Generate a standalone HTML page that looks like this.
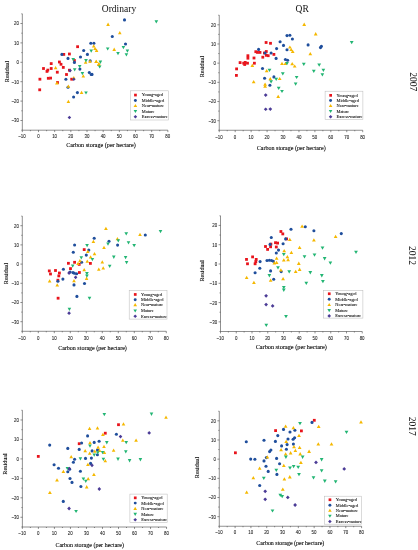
<!DOCTYPE html>
<html><head><meta charset="utf-8"><title>Residual plots</title>
<style>
html,body{margin:0;padding:0;background:#fff;}
svg{display:block;filter:blur(0.3px)}
.tk{font-family:"Liberation Sans",Arial,sans-serif;font-size:5.4px;fill:#1a1a1a;stroke:#1a1a1a;stroke-width:0.08px}
.ax{font-family:"Liberation Serif","Times New Roman",serif;font-size:6.1px;fill:#000;stroke:#000;stroke-width:0.09px}
.lg{font-family:"Liberation Serif","Times New Roman",serif;font-size:4.4px;fill:#000;stroke:#000;stroke-width:0.07px}
.tt{font-family:"Liberation Serif","Times New Roman",serif;font-size:9.5px;fill:#111}
</style></head><body>
<svg width="418" height="550" viewBox="0 0 418 550">
<rect width="418" height="550" fill="#fff"/>
<text class="tt" x="119" y="11.7" text-anchor="middle">Ordinary</text>
<text class="tt" x="302.2" y="11.7" text-anchor="middle">QR</text>
<text class="tt" transform="translate(409.8,81.8) rotate(90)" text-anchor="middle">2007</text>
<text class="tt" transform="translate(409.0,255.5) rotate(90)" text-anchor="middle">2012</text>
<text class="tt" transform="translate(408.6,426.2) rotate(90)" text-anchor="middle">2017</text>

<g id="p1">
<path d="M22.33 13.80V130.20H167.86M22.33 130.20v1.9M30.41 130.20v1.0M38.50 130.20v1.9M46.59 130.20v1.0M54.67 130.20v1.9M62.75 130.20v1.0M70.84 130.20v1.9M78.92 130.20v1.0M87.01 130.20v1.9M95.09 130.20v1.0M103.18 130.20v1.9M111.27 130.20v1.0M119.35 130.20v1.9M127.44 130.20v1.0M135.52 130.20v1.9M143.61 130.20v1.0M151.69 130.20v1.9M159.78 130.20v1.0M167.86 130.20v1.9M22.33 130.20h-1.0M22.33 120.50h-1.9M22.33 110.80h-1.0M22.33 101.10h-1.9M22.33 91.40h-1.0M22.33 81.70h-1.9M22.33 72.00h-1.0M22.33 62.30h-1.9M22.33 52.60h-1.0M22.33 42.90h-1.9M22.33 33.20h-1.0M22.33 23.50h-1.9M22.33 13.80h-1.0" fill="none" stroke="#333" stroke-width="0.55"/>
<text class="tk" transform="translate(22.0,138.4) scale(0.82,1)" text-anchor="middle">−10</text>
<text class="tk" transform="translate(38.4,138.4) scale(0.82,1)" text-anchor="middle">0</text>
<text class="tk" transform="translate(54.6,138.4) scale(0.82,1)" text-anchor="middle">10</text>
<text class="tk" transform="translate(70.7,138.4) scale(0.82,1)" text-anchor="middle">20</text>
<text class="tk" transform="translate(86.9,138.4) scale(0.82,1)" text-anchor="middle">30</text>
<text class="tk" transform="translate(103.1,138.4) scale(0.82,1)" text-anchor="middle">40</text>
<text class="tk" transform="translate(119.2,138.4) scale(0.82,1)" text-anchor="middle">50</text>
<text class="tk" transform="translate(135.4,138.4) scale(0.82,1)" text-anchor="middle">60</text>
<text class="tk" transform="translate(151.6,138.4) scale(0.82,1)" text-anchor="middle">70</text>
<text class="tk" transform="translate(167.8,138.4) scale(0.82,1)" text-anchor="middle">80</text>
<text class="tk" transform="translate(18.9,122.4) scale(0.82,1)" text-anchor="end">−30</text>
<text class="tk" transform="translate(18.9,103.0) scale(0.82,1)" text-anchor="end">−20</text>
<text class="tk" transform="translate(18.9,83.6) scale(0.82,1)" text-anchor="end">−10</text>
<text class="tk" transform="translate(18.9,64.2) scale(0.82,1)" text-anchor="end">0</text>
<text class="tk" transform="translate(18.9,44.8) scale(0.82,1)" text-anchor="end">10</text>
<text class="tk" transform="translate(18.9,25.4) scale(0.82,1)" text-anchor="end">20</text>
<text class="ax" x="101.0" y="147.2" text-anchor="middle" textLength="69.6" lengthAdjust="spacingAndGlyphs">Carbon storage (per hectare)</text>
<text class="ax" transform="translate(9.4,71.5) rotate(-90)" text-anchor="middle">Residual</text>
<rect x="38.3" y="88.4" width="2.8" height="2.8" fill="#e8141c"/>
<rect x="38.5" y="77.8" width="2.8" height="2.8" fill="#e8141c"/>
<rect x="42.1" y="67.1" width="2.8" height="2.8" fill="#e8141c"/>
<rect x="45.6" y="70.0" width="2.8" height="2.8" fill="#e8141c"/>
<rect x="46.4" y="68.7" width="2.8" height="2.8" fill="#e8141c"/>
<rect x="46.9" y="76.9" width="2.8" height="2.8" fill="#e8141c"/>
<rect x="49.2" y="76.7" width="2.8" height="2.8" fill="#e8141c"/>
<rect x="49.8" y="62.2" width="2.8" height="2.8" fill="#e8141c"/>
<rect x="49.8" y="67.1" width="2.8" height="2.8" fill="#e8141c"/>
<rect x="55.9" y="70.8" width="2.8" height="2.8" fill="#e8141c"/>
<rect x="56.1" y="81.1" width="2.8" height="2.8" fill="#e8141c"/>
<rect x="58.0" y="60.6" width="2.8" height="2.8" fill="#e8141c"/>
<rect x="59.6" y="62.9" width="2.8" height="2.8" fill="#e8141c"/>
<rect x="61.9" y="66.0" width="2.8" height="2.8" fill="#e8141c"/>
<rect x="62.4" y="53.0" width="2.8" height="2.8" fill="#e8141c"/>
<rect x="65.1" y="73.1" width="2.8" height="2.8" fill="#e8141c"/>
<rect x="68.0" y="52.6" width="2.8" height="2.8" fill="#e8141c"/>
<rect x="68.0" y="68.8" width="2.8" height="2.8" fill="#e8141c"/>
<rect x="70.3" y="77.8" width="2.8" height="2.8" fill="#e8141c"/>
<rect x="76.2" y="45.3" width="2.8" height="2.8" fill="#e8141c"/>
<rect x="73.0" y="59.1" width="2.8" height="2.8" fill="#e8141c"/>
<circle cx="61.9" cy="54.4" r="1.55" fill="#1f4e9c"/>
<circle cx="65.9" cy="79.2" r="1.55" fill="#1f4e9c"/>
<circle cx="68.0" cy="58.4" r="1.55" fill="#1f4e9c"/>
<circle cx="68.0" cy="87.3" r="1.55" fill="#1f4e9c"/>
<circle cx="73.6" cy="97.0" r="1.55" fill="#1f4e9c"/>
<circle cx="74.4" cy="62.4" r="1.55" fill="#1f4e9c"/>
<circle cx="77.4" cy="92.6" r="1.55" fill="#1f4e9c"/>
<circle cx="79.9" cy="69.1" r="1.55" fill="#1f4e9c"/>
<circle cx="80.5" cy="57.0" r="1.55" fill="#1f4e9c"/>
<circle cx="83.7" cy="50.5" r="1.55" fill="#1f4e9c"/>
<circle cx="87.4" cy="54.4" r="1.55" fill="#1f4e9c"/>
<circle cx="89.3" cy="72.5" r="1.55" fill="#1f4e9c"/>
<circle cx="91.2" cy="74.5" r="1.55" fill="#1f4e9c"/>
<circle cx="90.8" cy="43.3" r="1.55" fill="#1f4e9c"/>
<circle cx="93.9" cy="43.3" r="1.55" fill="#1f4e9c"/>
<circle cx="90.2" cy="60.9" r="1.55" fill="#1f4e9c"/>
<circle cx="124.5" cy="19.9" r="1.55" fill="#1f4e9c"/>
<circle cx="112.3" cy="36.5" r="1.55" fill="#1f4e9c"/>
<circle cx="125.5" cy="44.0" r="1.55" fill="#1f4e9c"/>
<circle cx="92.0" cy="74.4" r="1.55" fill="#1f4e9c"/>
<path d="M55.6 66.0L57.5 69.2H53.8Z" fill="#f5b800"/>
<path d="M56.9 81.2L58.8 84.5H55.0Z" fill="#f5b800"/>
<path d="M68.4 84.5L70.2 87.7H66.6Z" fill="#f5b800"/>
<path d="M68.4 99.8L70.2 103.0H66.6Z" fill="#f5b800"/>
<path d="M73.8 76.1L75.6 79.3H72.0Z" fill="#f5b800"/>
<path d="M81.6 90.8L83.4 94.0H79.8Z" fill="#f5b800"/>
<path d="M83.3 74.2L85.1 77.4H81.5Z" fill="#f5b800"/>
<path d="M85.6 60.5L87.4 63.8H83.8Z" fill="#f5b800"/>
<path d="M90.0 59.4L91.8 62.7H88.2Z" fill="#f5b800"/>
<path d="M93.7 44.2L95.5 47.5H91.9Z" fill="#f5b800"/>
<path d="M95.0 46.8L96.8 50.0H93.2Z" fill="#f5b800"/>
<path d="M96.6 48.6L98.4 51.9H94.8Z" fill="#f5b800"/>
<path d="M96.2 59.8L98.0 63.0H94.4Z" fill="#f5b800"/>
<path d="M98.9 62.0L100.8 65.3H97.1Z" fill="#f5b800"/>
<path d="M108.1 22.6L109.9 25.9H106.2Z" fill="#f5b800"/>
<path d="M119.8 31.0L121.6 34.3H118.0Z" fill="#f5b800"/>
<path d="M114.2 47.6L116.0 50.9H112.4Z" fill="#f5b800"/>
<path d="M96.2 59.8L98.0 63.0H94.4Z" fill="#f5b800"/>
<path d="M98.7 62.6L100.5 65.9H96.9Z" fill="#f5b800"/>
<path d="M73.2 61.4L75.0 58.1H71.4Z" fill="#22b573"/>
<path d="M74.7 71.5L76.5 68.3H72.9Z" fill="#22b573"/>
<path d="M79.7 68.2L81.5 65.0H77.9Z" fill="#22b573"/>
<path d="M82.4 75.3L84.2 72.1H80.6Z" fill="#22b573"/>
<path d="M86.0 62.4L87.8 59.1H84.2Z" fill="#22b573"/>
<path d="M86.0 94.6L87.8 91.4H84.2Z" fill="#22b573"/>
<path d="M91.2 52.8L93.0 49.5H89.4Z" fill="#22b573"/>
<path d="M156.3 23.5L158.2 20.2H154.5Z" fill="#22b573"/>
<path d="M107.7 50.6L109.5 47.4H105.9Z" fill="#22b573"/>
<path d="M118.0 55.2L119.8 52.0H116.2Z" fill="#22b573"/>
<path d="M123.4 49.2L125.2 46.0H121.6Z" fill="#22b573"/>
<path d="M127.4 52.8L129.2 49.5H125.6Z" fill="#22b573"/>
<path d="M126.4 56.6L128.2 53.3H124.6Z" fill="#22b573"/>
<path d="M100.4 63.9L102.2 60.6H98.6Z" fill="#22b573"/>
<path d="M99.7 68.6L101.5 65.4H97.9Z" fill="#22b573"/>
<path d="M69.4 115.7L71.2 117.5L69.4 119.3L67.6 117.5Z" fill="#4b3b96"/>
<path d="M70.1 68.8L71.9 70.6L70.1 72.4L68.2 70.6Z" fill="#4b3b96"/>
<path d="M73.8 77.4L75.6 79.2L73.8 81.0L72.0 79.2Z" fill="#4b3b96"/>
<rect x="130.4" y="90.8" width="38.3" height="29.2" fill="#fff" stroke="#bdbdbd" stroke-width="0.55"/>
<rect x="134.1" y="93.7" width="2.7" height="2.7" fill="#e8141c"/>
<text class="lg" x="141.8" y="96.4">Young-aged</text>
<circle cx="135.4" cy="100.5" r="1.47" fill="#1f4e9c"/>
<text class="lg" x="141.8" y="101.9">Middle-aged</text>
<path d="M135.4 104.0L137.2 107.1H133.6Z" fill="#f5b800"/>
<text class="lg" x="141.8" y="107.2">Near-mature</text>
<path d="M135.4 113.1L137.2 110.0H133.6Z" fill="#22b573"/>
<text class="lg" x="141.8" y="112.7">Mature</text>
<path d="M135.4 115.0L137.2 116.8L135.4 118.6L133.6 116.8Z" fill="#4b3b96"/>
<text class="lg" x="141.8" y="118.2">Excess-mature</text>
</g>
<g id="p2">
<path d="M219.26 15.20V130.28H362.72M219.26 130.28v1.9M227.23 130.28v1.0M235.20 130.28v1.9M243.17 130.28v1.0M251.14 130.28v1.9M259.11 130.28v1.0M267.08 130.28v1.9M275.05 130.28v1.0M283.02 130.28v1.9M290.99 130.28v1.0M298.96 130.28v1.9M306.93 130.28v1.0M314.90 130.28v1.9M322.87 130.28v1.0M330.84 130.28v1.9M338.81 130.28v1.0M346.78 130.28v1.9M354.75 130.28v1.0M362.72 130.28v1.9M219.26 130.28h-1.0M219.26 120.69h-1.9M219.26 111.10h-1.0M219.26 101.51h-1.9M219.26 91.92h-1.0M219.26 82.33h-1.9M219.26 72.74h-1.0M219.26 63.15h-1.9M219.26 53.56h-1.0M219.26 43.97h-1.9M219.26 34.38h-1.0M219.26 24.79h-1.9M219.26 15.20h-1.0" fill="none" stroke="#333" stroke-width="0.55"/>
<text class="tk" transform="translate(219.0,138.5) scale(0.82,1)" text-anchor="middle">−10</text>
<text class="tk" transform="translate(235.1,138.5) scale(0.82,1)" text-anchor="middle">0</text>
<text class="tk" transform="translate(251.0,138.5) scale(0.82,1)" text-anchor="middle">10</text>
<text class="tk" transform="translate(267.0,138.5) scale(0.82,1)" text-anchor="middle">20</text>
<text class="tk" transform="translate(282.9,138.5) scale(0.82,1)" text-anchor="middle">30</text>
<text class="tk" transform="translate(298.9,138.5) scale(0.82,1)" text-anchor="middle">40</text>
<text class="tk" transform="translate(314.8,138.5) scale(0.82,1)" text-anchor="middle">50</text>
<text class="tk" transform="translate(330.7,138.5) scale(0.82,1)" text-anchor="middle">60</text>
<text class="tk" transform="translate(346.7,138.5) scale(0.82,1)" text-anchor="middle">70</text>
<text class="tk" transform="translate(362.6,138.5) scale(0.82,1)" text-anchor="middle">80</text>
<text class="tk" transform="translate(215.9,122.6) scale(0.82,1)" text-anchor="end">−30</text>
<text class="tk" transform="translate(215.9,103.4) scale(0.82,1)" text-anchor="end">−20</text>
<text class="tk" transform="translate(215.9,84.2) scale(0.82,1)" text-anchor="end">−10</text>
<text class="tk" transform="translate(215.9,65.0) scale(0.82,1)" text-anchor="end">0</text>
<text class="tk" transform="translate(215.9,45.9) scale(0.82,1)" text-anchor="end">10</text>
<text class="tk" transform="translate(215.9,26.7) scale(0.82,1)" text-anchor="end">20</text>
<text class="ax" x="291.2" y="149.8" text-anchor="middle" textLength="68.9" lengthAdjust="spacingAndGlyphs">Carbon storage (per hectare)</text>
<text class="ax" transform="translate(204.4,66.6) rotate(-90)" text-anchor="middle">Residual</text>
<rect x="235.0" y="74.0" width="2.8" height="2.8" fill="#e8141c"/>
<rect x="235.2" y="67.5" width="2.8" height="2.8" fill="#e8141c"/>
<rect x="238.7" y="61.2" width="2.8" height="2.8" fill="#e8141c"/>
<rect x="242.3" y="61.8" width="2.8" height="2.8" fill="#e8141c"/>
<rect x="243.3" y="63.1" width="2.8" height="2.8" fill="#e8141c"/>
<rect x="243.8" y="61.0" width="2.8" height="2.8" fill="#e8141c"/>
<rect x="246.1" y="61.8" width="2.8" height="2.8" fill="#e8141c"/>
<rect x="246.5" y="54.3" width="2.8" height="2.8" fill="#e8141c"/>
<rect x="246.5" y="56.8" width="2.8" height="2.8" fill="#e8141c"/>
<rect x="252.6" y="56.6" width="2.8" height="2.8" fill="#e8141c"/>
<rect x="253.0" y="61.8" width="2.8" height="2.8" fill="#e8141c"/>
<rect x="254.4" y="50.3" width="2.8" height="2.8" fill="#e8141c"/>
<rect x="256.1" y="51.0" width="2.8" height="2.8" fill="#e8141c"/>
<rect x="258.6" y="51.0" width="2.8" height="2.8" fill="#e8141c"/>
<rect x="261.4" y="55.8" width="2.8" height="2.8" fill="#e8141c"/>
<rect x="263.0" y="51.6" width="2.8" height="2.8" fill="#e8141c"/>
<rect x="264.7" y="41.1" width="2.8" height="2.8" fill="#e8141c"/>
<rect x="264.9" y="50.1" width="2.8" height="2.8" fill="#e8141c"/>
<rect x="264.9" y="53.9" width="2.8" height="2.8" fill="#e8141c"/>
<rect x="266.8" y="54.3" width="2.8" height="2.8" fill="#e8141c"/>
<rect x="269.1" y="41.9" width="2.8" height="2.8" fill="#e8141c"/>
<rect x="272.5" y="53.0" width="2.8" height="2.8" fill="#e8141c"/>
<circle cx="258.6" cy="49.4" r="1.55" fill="#1f4e9c"/>
<circle cx="262.5" cy="68.5" r="1.55" fill="#1f4e9c"/>
<circle cx="264.6" cy="78.3" r="1.55" fill="#1f4e9c"/>
<circle cx="265.1" cy="53.0" r="1.55" fill="#1f4e9c"/>
<circle cx="269.9" cy="85.2" r="1.55" fill="#1f4e9c"/>
<circle cx="271.1" cy="53.0" r="1.55" fill="#1f4e9c"/>
<circle cx="273.9" cy="76.9" r="1.55" fill="#1f4e9c"/>
<circle cx="276.1" cy="58.4" r="1.55" fill="#1f4e9c"/>
<circle cx="276.6" cy="48.6" r="1.55" fill="#1f4e9c"/>
<circle cx="280.1" cy="41.7" r="1.55" fill="#1f4e9c"/>
<circle cx="283.5" cy="45.4" r="1.55" fill="#1f4e9c"/>
<circle cx="285.4" cy="59.5" r="1.55" fill="#1f4e9c"/>
<circle cx="287.0" cy="35.6" r="1.55" fill="#1f4e9c"/>
<circle cx="289.9" cy="35.2" r="1.55" fill="#1f4e9c"/>
<circle cx="292.4" cy="39.0" r="1.55" fill="#1f4e9c"/>
<circle cx="308.1" cy="44.9" r="1.55" fill="#1f4e9c"/>
<circle cx="320.5" cy="47.6" r="1.55" fill="#1f4e9c"/>
<circle cx="321.4" cy="46.3" r="1.55" fill="#1f4e9c"/>
<circle cx="287.0" cy="49.7" r="1.55" fill="#1f4e9c"/>
<circle cx="287.6" cy="60.2" r="1.55" fill="#1f4e9c"/>
<path d="M252.3 63.6L254.2 66.9H250.5Z" fill="#f5b800"/>
<path d="M253.7 80.1L255.5 83.3H251.8Z" fill="#f5b800"/>
<path d="M265.1 82.6L267.0 85.8H263.2Z" fill="#f5b800"/>
<path d="M265.1 84.5L267.0 87.7H263.2Z" fill="#f5b800"/>
<path d="M266.7 69.0L268.6 72.2H264.8Z" fill="#f5b800"/>
<path d="M270.3 77.1L272.2 80.3H268.4Z" fill="#f5b800"/>
<path d="M278.2 94.7L280.1 97.9H276.3Z" fill="#f5b800"/>
<path d="M279.7 76.9L281.6 80.1H277.8Z" fill="#f5b800"/>
<path d="M282.0 61.8L283.9 65.0H280.1Z" fill="#f5b800"/>
<path d="M285.4 61.8L287.2 65.0H283.5Z" fill="#f5b800"/>
<path d="M304.2 22.6L306.1 25.9H302.3Z" fill="#f5b800"/>
<path d="M315.7 32.1L317.6 35.4H313.8Z" fill="#f5b800"/>
<path d="M310.3 52.0L312.2 55.3H308.4Z" fill="#f5b800"/>
<path d="M289.9 45.4L291.8 48.6H288.0Z" fill="#f5b800"/>
<path d="M291.2 47.9L293.1 51.1H289.3Z" fill="#f5b800"/>
<path d="M292.7 49.8L294.6 53.0H290.8Z" fill="#f5b800"/>
<path d="M292.2 62.0L294.1 65.3H290.3Z" fill="#f5b800"/>
<path d="M294.7 64.4L296.6 67.6H292.8Z" fill="#f5b800"/>
<path d="M269.5 72.0L271.4 68.8H267.6Z" fill="#22b573"/>
<path d="M271.1 83.5L273.0 80.3H269.2Z" fill="#22b573"/>
<path d="M276.2 81.0L278.1 77.8H274.3Z" fill="#22b573"/>
<path d="M278.7 90.0L280.6 86.8H276.8Z" fill="#22b573"/>
<path d="M282.0 93.1L283.9 89.9H280.1Z" fill="#22b573"/>
<path d="M282.8 75.5L284.7 72.3H280.9Z" fill="#22b573"/>
<path d="M351.7 44.2L353.6 41.0H349.8Z" fill="#22b573"/>
<path d="M303.8 65.9L305.7 62.7H301.9Z" fill="#22b573"/>
<path d="M319.2 66.8L321.1 63.6H317.3Z" fill="#22b573"/>
<path d="M313.8 73.0L315.7 69.8H311.9Z" fill="#22b573"/>
<path d="M323.4 72.0L325.2 68.8H321.5Z" fill="#22b573"/>
<path d="M322.4 76.4L324.2 73.2H320.5Z" fill="#22b573"/>
<path d="M296.6 79.1L298.5 75.9H294.8Z" fill="#22b573"/>
<path d="M295.6 85.8L297.5 82.6H293.8Z" fill="#22b573"/>
<path d="M287.0 65.3L288.9 62.1H285.1Z" fill="#22b573"/>
<path d="M265.7 93.2L267.6 95.1L265.7 96.9L263.8 95.1Z" fill="#4b3b96"/>
<path d="M265.7 107.5L267.6 109.3L265.7 111.1L263.8 109.3Z" fill="#4b3b96"/>
<path d="M270.3 107.2L272.2 109.1L270.3 110.9L268.4 109.1Z" fill="#4b3b96"/>
<rect x="325.1" y="91.2" width="37.8" height="28.3" fill="#fff" stroke="#bdbdbd" stroke-width="0.55"/>
<rect x="329.3" y="94.0" width="2.7" height="2.7" fill="#e8141c"/>
<text class="lg" x="336.5" y="96.7">Young-aged</text>
<circle cx="330.6" cy="100.5" r="1.47" fill="#1f4e9c"/>
<text class="lg" x="336.5" y="101.9">Middle-aged</text>
<path d="M330.6 104.0L332.4 107.1H328.8Z" fill="#f5b800"/>
<text class="lg" x="336.5" y="107.2">Near-mature</text>
<path d="M330.6 113.1L332.4 110.0H328.8Z" fill="#22b573"/>
<text class="lg" x="336.5" y="112.7">Mature</text>
<path d="M330.6 115.0L332.4 116.8L330.6 118.6L328.8 116.8Z" fill="#4b3b96"/>
<text class="lg" x="336.5" y="118.2">Excess-mature</text>
</g>
<g id="p3">
<path d="M22.30 216.10V331.30H166.30M22.30 331.30v1.9M30.30 331.30v1.0M38.30 331.30v1.9M46.30 331.30v1.0M54.30 331.30v1.9M62.30 331.30v1.0M70.30 331.30v1.9M78.30 331.30v1.0M86.30 331.30v1.9M94.30 331.30v1.0M102.30 331.30v1.9M110.30 331.30v1.0M118.30 331.30v1.9M126.30 331.30v1.0M134.30 331.30v1.9M142.30 331.30v1.0M150.30 331.30v1.9M158.30 331.30v1.0M166.30 331.30v1.9M22.30 331.30h-1.0M22.30 321.70h-1.9M22.30 312.10h-1.0M22.30 302.50h-1.9M22.30 292.90h-1.0M22.30 283.30h-1.9M22.30 273.70h-1.0M22.30 264.10h-1.9M22.30 254.50h-1.0M22.30 244.90h-1.9M22.30 235.30h-1.0M22.30 225.70h-1.9M22.30 216.10h-1.0" fill="none" stroke="#333" stroke-width="0.55"/>
<text class="tk" transform="translate(22.0,339.5) scale(0.82,1)" text-anchor="middle">−10</text>
<text class="tk" transform="translate(38.2,339.5) scale(0.82,1)" text-anchor="middle">0</text>
<text class="tk" transform="translate(54.2,339.5) scale(0.82,1)" text-anchor="middle">10</text>
<text class="tk" transform="translate(70.2,339.5) scale(0.82,1)" text-anchor="middle">20</text>
<text class="tk" transform="translate(86.2,339.5) scale(0.82,1)" text-anchor="middle">30</text>
<text class="tk" transform="translate(102.2,339.5) scale(0.82,1)" text-anchor="middle">40</text>
<text class="tk" transform="translate(118.2,339.5) scale(0.82,1)" text-anchor="middle">50</text>
<text class="tk" transform="translate(134.2,339.5) scale(0.82,1)" text-anchor="middle">60</text>
<text class="tk" transform="translate(150.2,339.5) scale(0.82,1)" text-anchor="middle">70</text>
<text class="tk" transform="translate(166.2,339.5) scale(0.82,1)" text-anchor="middle">80</text>
<text class="tk" transform="translate(18.9,323.6) scale(0.82,1)" text-anchor="end">−30</text>
<text class="tk" transform="translate(18.9,304.4) scale(0.82,1)" text-anchor="end">−20</text>
<text class="tk" transform="translate(18.9,285.2) scale(0.82,1)" text-anchor="end">−10</text>
<text class="tk" transform="translate(18.9,266.0) scale(0.82,1)" text-anchor="end">0</text>
<text class="tk" transform="translate(18.9,246.8) scale(0.82,1)" text-anchor="end">10</text>
<text class="tk" transform="translate(18.9,227.6) scale(0.82,1)" text-anchor="end">20</text>
<text class="ax" x="92.5" y="349.9" text-anchor="middle" textLength="68.7" lengthAdjust="spacingAndGlyphs">Carbon storage (per hectare)</text>
<text class="ax" transform="translate(8.0,273.5) rotate(-90)" text-anchor="middle">Residual</text>
<rect x="47.9" y="269.5" width="2.8" height="2.8" fill="#e8141c"/>
<rect x="49.1" y="272.6" width="2.8" height="2.8" fill="#e8141c"/>
<rect x="54.1" y="269.1" width="2.8" height="2.8" fill="#e8141c"/>
<rect x="58.0" y="271.6" width="2.8" height="2.8" fill="#e8141c"/>
<rect x="57.4" y="274.5" width="2.8" height="2.8" fill="#e8141c"/>
<rect x="56.5" y="278.8" width="2.8" height="2.8" fill="#e8141c"/>
<rect x="56.7" y="296.8" width="2.8" height="2.8" fill="#e8141c"/>
<rect x="67.0" y="261.9" width="2.8" height="2.8" fill="#e8141c"/>
<rect x="69.1" y="267.2" width="2.8" height="2.8" fill="#e8141c"/>
<rect x="73.2" y="260.9" width="2.8" height="2.8" fill="#e8141c"/>
<rect x="78.0" y="271.1" width="2.8" height="2.8" fill="#e8141c"/>
<rect x="82.8" y="248.2" width="2.8" height="2.8" fill="#e8141c"/>
<rect x="89.0" y="262.0" width="2.8" height="2.8" fill="#e8141c"/>
<rect x="77.8" y="263.0" width="2.8" height="2.8" fill="#e8141c"/>
<circle cx="63.4" cy="269.2" r="1.55" fill="#1f4e9c"/>
<circle cx="62.9" cy="279.1" r="1.55" fill="#1f4e9c"/>
<circle cx="57.9" cy="281.2" r="1.55" fill="#1f4e9c"/>
<circle cx="73.3" cy="252.2" r="1.55" fill="#1f4e9c"/>
<circle cx="74.6" cy="245.0" r="1.55" fill="#1f4e9c"/>
<circle cx="70.1" cy="272.0" r="1.55" fill="#1f4e9c"/>
<circle cx="73.0" cy="272.6" r="1.55" fill="#1f4e9c"/>
<circle cx="74.4" cy="273.2" r="1.55" fill="#1f4e9c"/>
<circle cx="76.6" cy="273.8" r="1.55" fill="#1f4e9c"/>
<circle cx="74.0" cy="284.9" r="1.55" fill="#1f4e9c"/>
<circle cx="84.5" cy="283.5" r="1.55" fill="#1f4e9c"/>
<circle cx="76.9" cy="296.4" r="1.55" fill="#1f4e9c"/>
<circle cx="94.2" cy="238.2" r="1.55" fill="#1f4e9c"/>
<circle cx="88.8" cy="250.1" r="1.55" fill="#1f4e9c"/>
<circle cx="86.3" cy="255.1" r="1.55" fill="#1f4e9c"/>
<circle cx="81.6" cy="262.3" r="1.55" fill="#1f4e9c"/>
<circle cx="109.0" cy="241.3" r="1.55" fill="#1f4e9c"/>
<circle cx="117.6" cy="245.1" r="1.55" fill="#1f4e9c"/>
<circle cx="145.3" cy="235.0" r="1.55" fill="#1f4e9c"/>
<path d="M49.6 279.3L51.5 282.6H47.8Z" fill="#f5b800"/>
<path d="M57.2 283.3L59.1 286.6H55.4Z" fill="#f5b800"/>
<path d="M74.0 279.0L75.8 282.3H72.2Z" fill="#f5b800"/>
<path d="M84.2 268.0L86.0 271.3H82.4Z" fill="#f5b800"/>
<path d="M86.6 276.6L88.4 279.9H84.8Z" fill="#f5b800"/>
<path d="M79.9 258.9L81.8 262.2H78.1Z" fill="#f5b800"/>
<path d="M78.0 261.8L79.8 265.1H76.2Z" fill="#f5b800"/>
<path d="M87.3 259.4L89.1 262.7H85.5Z" fill="#f5b800"/>
<path d="M90.6 255.3L92.4 258.6H88.8Z" fill="#f5b800"/>
<path d="M94.5 252.1L96.3 255.3H92.7Z" fill="#f5b800"/>
<path d="M87.8 249.7L89.6 252.9H86.0Z" fill="#f5b800"/>
<path d="M93.4 239.8L95.2 243.1H91.6Z" fill="#f5b800"/>
<path d="M98.8 267.5L100.6 270.8H97.0Z" fill="#f5b800"/>
<path d="M105.9 226.8L107.8 230.1H104.1Z" fill="#f5b800"/>
<path d="M117.4 237.0L119.2 240.2H115.6Z" fill="#f5b800"/>
<path d="M104.0 245.8L105.8 249.0H102.2Z" fill="#f5b800"/>
<path d="M102.3 260.2L104.1 263.5H100.5Z" fill="#f5b800"/>
<path d="M103.2 266.2L105.0 269.5H101.4Z" fill="#f5b800"/>
<path d="M140.0 232.8L141.8 236.0H138.2Z" fill="#f5b800"/>
<path d="M87.1 247.2L88.9 243.9H85.2Z" fill="#22b573"/>
<path d="M81.3 259.6L83.1 256.3H79.5Z" fill="#22b573"/>
<path d="M72.7 267.8L74.5 264.5H70.9Z" fill="#22b573"/>
<path d="M92.4 261.2L94.2 258.0H90.6Z" fill="#22b573"/>
<path d="M86.9 275.2L88.8 271.9H85.1Z" fill="#22b573"/>
<path d="M86.9 277.8L88.8 274.5H85.1Z" fill="#22b573"/>
<path d="M89.5 300.1L91.3 296.8H87.7Z" fill="#22b573"/>
<path d="M69.4 311.1L71.2 307.8H67.6Z" fill="#22b573"/>
<path d="M126.2 235.4L128.1 232.2H124.4Z" fill="#22b573"/>
<path d="M160.5 233.3L162.3 230.1H158.7Z" fill="#22b573"/>
<path d="M118.3 242.5L120.1 239.3H116.5Z" fill="#22b573"/>
<path d="M108.0 245.8L109.8 242.6H106.2Z" fill="#22b573"/>
<path d="M128.5 244.4L130.3 241.2H126.7Z" fill="#22b573"/>
<path d="M134.2 247.2L136.0 243.9H132.3Z" fill="#22b573"/>
<path d="M113.8 258.9L115.6 255.6H112.0Z" fill="#22b573"/>
<path d="M125.6 259.2L127.4 256.0H123.8Z" fill="#22b573"/>
<path d="M126.6 264.2L128.4 260.9H124.8Z" fill="#22b573"/>
<path d="M109.7 268.1L111.5 264.8H107.9Z" fill="#22b573"/>
<path d="M69.1 271.1L70.9 273.0L69.1 274.9L67.2 273.0Z" fill="#4b3b96"/>
<path d="M75.6 275.4L77.4 277.3L75.6 279.2L73.8 277.3Z" fill="#4b3b96"/>
<path d="M69.1 311.3L70.9 313.2L69.1 315.1L67.2 313.2Z" fill="#4b3b96"/>
<rect x="129.2" y="290.6" width="37.8" height="28.5" fill="#fff" stroke="#bdbdbd" stroke-width="0.55"/>
<rect x="133.9" y="293.1" width="2.7" height="2.7" fill="#e8141c"/>
<text class="lg" x="141.0" y="295.8">Young-aged</text>
<circle cx="135.2" cy="299.7" r="1.47" fill="#1f4e9c"/>
<text class="lg" x="141.0" y="301.1">Middle-aged</text>
<path d="M135.2 303.1L137.0 306.2H133.4Z" fill="#f5b800"/>
<text class="lg" x="141.0" y="306.3">Near-mature</text>
<path d="M135.2 312.5L137.0 309.4H133.4Z" fill="#22b573"/>
<text class="lg" x="141.0" y="312.1">Mature</text>
<path d="M135.2 314.4L137.0 316.2L135.2 318.0L133.4 316.2Z" fill="#4b3b96"/>
<text class="lg" x="141.0" y="317.6">Excess-mature</text>
</g>
<g id="p4">
<path d="M220.50 215.78V331.51H362.25M220.50 331.51v1.9M228.38 331.51v1.0M236.25 331.51v1.9M244.12 331.51v1.0M252.00 331.51v1.9M259.88 331.51v1.0M267.75 331.51v1.9M275.62 331.51v1.0M283.50 331.51v1.9M291.38 331.51v1.0M299.25 331.51v1.9M307.12 331.51v1.0M315.00 331.51v1.9M322.88 331.51v1.0M330.75 331.51v1.9M338.62 331.51v1.0M346.50 331.51v1.9M354.38 331.51v1.0M362.25 331.51v1.9M220.50 331.51h-1.0M220.50 321.87h-1.9M220.50 312.23h-1.0M220.50 302.58h-1.9M220.50 292.94h-1.0M220.50 283.29h-1.9M220.50 273.64h-1.0M220.50 264.00h-1.9M220.50 254.35h-1.0M220.50 244.71h-1.9M220.50 235.06h-1.0M220.50 225.42h-1.9M220.50 215.78h-1.0" fill="none" stroke="#333" stroke-width="0.55"/>
<text class="tk" transform="translate(220.2,339.7) scale(0.82,1)" text-anchor="middle">−10</text>
<text class="tk" transform="translate(236.2,339.7) scale(0.82,1)" text-anchor="middle">0</text>
<text class="tk" transform="translate(251.9,339.7) scale(0.82,1)" text-anchor="middle">10</text>
<text class="tk" transform="translate(267.6,339.7) scale(0.82,1)" text-anchor="middle">20</text>
<text class="tk" transform="translate(283.4,339.7) scale(0.82,1)" text-anchor="middle">30</text>
<text class="tk" transform="translate(299.1,339.7) scale(0.82,1)" text-anchor="middle">40</text>
<text class="tk" transform="translate(314.9,339.7) scale(0.82,1)" text-anchor="middle">50</text>
<text class="tk" transform="translate(330.6,339.7) scale(0.82,1)" text-anchor="middle">60</text>
<text class="tk" transform="translate(346.4,339.7) scale(0.82,1)" text-anchor="middle">70</text>
<text class="tk" transform="translate(362.1,339.7) scale(0.82,1)" text-anchor="middle">80</text>
<text class="tk" transform="translate(217.1,323.8) scale(0.82,1)" text-anchor="end">−30</text>
<text class="tk" transform="translate(217.1,304.5) scale(0.82,1)" text-anchor="end">−20</text>
<text class="tk" transform="translate(217.1,285.2) scale(0.82,1)" text-anchor="end">−10</text>
<text class="tk" transform="translate(217.1,265.9) scale(0.82,1)" text-anchor="end">0</text>
<text class="tk" transform="translate(217.1,246.6) scale(0.82,1)" text-anchor="end">10</text>
<text class="tk" transform="translate(217.1,227.3) scale(0.82,1)" text-anchor="end">20</text>
<text class="ax" x="291.3" y="349.0" text-anchor="middle" textLength="71.3" lengthAdjust="spacingAndGlyphs">Carbon storage (per hectare)</text>
<text class="ax" transform="translate(203.9,270.8) rotate(-90)" text-anchor="middle">Residual</text>
<rect x="245.1" y="258.0" width="2.8" height="2.8" fill="#e8141c"/>
<rect x="246.1" y="262.4" width="2.8" height="2.8" fill="#e8141c"/>
<rect x="251.2" y="255.5" width="2.8" height="2.8" fill="#e8141c"/>
<rect x="254.8" y="258.0" width="2.8" height="2.8" fill="#e8141c"/>
<rect x="254.4" y="260.2" width="2.8" height="2.8" fill="#e8141c"/>
<rect x="253.7" y="262.4" width="2.8" height="2.8" fill="#e8141c"/>
<rect x="264.1" y="245.1" width="2.8" height="2.8" fill="#e8141c"/>
<rect x="266.2" y="248.0" width="2.8" height="2.8" fill="#e8141c"/>
<rect x="269.2" y="245.4" width="2.8" height="2.8" fill="#e8141c"/>
<rect x="269.5" y="242.7" width="2.8" height="2.8" fill="#e8141c"/>
<rect x="274.1" y="241.3" width="2.8" height="2.8" fill="#e8141c"/>
<rect x="276.2" y="241.7" width="2.8" height="2.8" fill="#e8141c"/>
<rect x="274.9" y="245.6" width="2.8" height="2.8" fill="#e8141c"/>
<rect x="279.5" y="230.1" width="2.8" height="2.8" fill="#e8141c"/>
<rect x="281.4" y="232.5" width="2.8" height="2.8" fill="#e8141c"/>
<rect x="285.2" y="237.5" width="2.8" height="2.8" fill="#e8141c"/>
<circle cx="291.0" cy="229.3" r="1.55" fill="#1f4e9c"/>
<circle cx="271.3" cy="237.5" r="1.55" fill="#1f4e9c"/>
<circle cx="285.6" cy="238.9" r="1.55" fill="#1f4e9c"/>
<circle cx="283.1" cy="243.7" r="1.55" fill="#1f4e9c"/>
<circle cx="270.1" cy="244.4" r="1.55" fill="#1f4e9c"/>
<circle cx="278.5" cy="250.1" r="1.55" fill="#1f4e9c"/>
<circle cx="276.3" cy="253.0" r="1.55" fill="#1f4e9c"/>
<circle cx="260.1" cy="261.6" r="1.55" fill="#1f4e9c"/>
<circle cx="259.8" cy="268.3" r="1.55" fill="#1f4e9c"/>
<circle cx="255.1" cy="272.8" r="1.55" fill="#1f4e9c"/>
<circle cx="267.0" cy="260.5" r="1.55" fill="#1f4e9c"/>
<circle cx="269.4" cy="260.2" r="1.55" fill="#1f4e9c"/>
<circle cx="271.6" cy="260.5" r="1.55" fill="#1f4e9c"/>
<circle cx="273.4" cy="261.2" r="1.55" fill="#1f4e9c"/>
<circle cx="270.6" cy="270.9" r="1.55" fill="#1f4e9c"/>
<circle cx="273.7" cy="279.3" r="1.55" fill="#1f4e9c"/>
<circle cx="281.2" cy="271.6" r="1.55" fill="#1f4e9c"/>
<circle cx="305.3" cy="226.7" r="1.55" fill="#1f4e9c"/>
<circle cx="313.9" cy="230.8" r="1.55" fill="#1f4e9c"/>
<circle cx="341.3" cy="233.6" r="1.55" fill="#1f4e9c"/>
<path d="M289.8 237.8L291.7 241.0H287.9Z" fill="#f5b800"/>
<path d="M284.2 249.0L286.1 252.2H282.3Z" fill="#f5b800"/>
<path d="M291.4 250.8L293.2 254.1H289.5Z" fill="#f5b800"/>
<path d="M276.6 256.4L278.5 259.7H274.8Z" fill="#f5b800"/>
<path d="M287.4 255.0L289.2 258.3H285.5Z" fill="#f5b800"/>
<path d="M283.8 258.3L285.7 261.6H281.9Z" fill="#f5b800"/>
<path d="M288.1 258.0L290.0 261.3H286.2Z" fill="#f5b800"/>
<path d="M274.4 261.1L276.2 264.4H272.5Z" fill="#f5b800"/>
<path d="M276.6 260.8L278.5 264.1H274.8Z" fill="#f5b800"/>
<path d="M246.7 275.8L248.5 279.1H244.8Z" fill="#f5b800"/>
<path d="M253.9 280.8L255.8 284.1H252.1Z" fill="#f5b800"/>
<path d="M270.6 278.4L272.5 281.7H268.8Z" fill="#f5b800"/>
<path d="M283.1 276.9L285.0 280.2H281.2Z" fill="#f5b800"/>
<path d="M280.9 268.3L282.8 271.6H279.0Z" fill="#f5b800"/>
<path d="M295.7 269.8L297.6 273.0H293.8Z" fill="#f5b800"/>
<path d="M298.8 261.6L300.7 264.9H296.9Z" fill="#f5b800"/>
<path d="M299.6 245.7L301.5 248.9H297.8Z" fill="#f5b800"/>
<path d="M299.6 267.6L301.5 270.9H297.8Z" fill="#f5b800"/>
<path d="M302.1 224.6L304.0 227.8H300.2Z" fill="#f5b800"/>
<path d="M313.9 238.2L315.8 241.5H312.0Z" fill="#f5b800"/>
<path d="M335.6 234.7L337.5 237.9H333.8Z" fill="#f5b800"/>
<path d="M283.8 256.2L285.7 253.0H281.9Z" fill="#22b573"/>
<path d="M278.0 269.5L279.9 266.2H276.1Z" fill="#22b573"/>
<path d="M269.4 277.4L271.2 274.1H267.5Z" fill="#22b573"/>
<path d="M289.2 273.5L291.1 270.2H287.3Z" fill="#22b573"/>
<path d="M283.8 289.2L285.7 286.0H281.9Z" fill="#22b573"/>
<path d="M283.8 291.9L285.7 288.6H281.9Z" fill="#22b573"/>
<path d="M266.3 327.1L268.2 323.8H264.4Z" fill="#22b573"/>
<path d="M286.0 318.2L287.9 315.0H284.1Z" fill="#22b573"/>
<path d="M322.5 249.8L324.4 246.6H320.6Z" fill="#22b573"/>
<path d="M356.0 254.0L357.9 250.8H354.1Z" fill="#22b573"/>
<path d="M314.5 256.8L316.4 253.5H312.6Z" fill="#22b573"/>
<path d="M304.5 258.5L306.4 255.2H302.6Z" fill="#22b573"/>
<path d="M324.6 260.4L326.5 257.1H322.8Z" fill="#22b573"/>
<path d="M330.4 264.8L332.2 261.5H328.5Z" fill="#22b573"/>
<path d="M310.3 274.4L312.2 271.1H308.4Z" fill="#22b573"/>
<path d="M321.8 277.4L323.7 274.1H319.9Z" fill="#22b573"/>
<path d="M322.9 283.2L324.8 279.9H321.0Z" fill="#22b573"/>
<path d="M306.3 285.1L308.2 281.8H304.4Z" fill="#22b573"/>
<path d="M266.1 293.9L268.0 295.8L266.1 297.7L264.2 295.8Z" fill="#4b3b96"/>
<path d="M266.1 302.8L268.0 304.6L266.1 306.5L264.2 304.6Z" fill="#4b3b96"/>
<path d="M272.6 304.0L274.5 305.9L272.6 307.8L270.8 305.9Z" fill="#4b3b96"/>
<rect x="323.4" y="290.4" width="39.5" height="27.7" fill="#fff" stroke="#bdbdbd" stroke-width="0.55"/>
<rect x="327.9" y="292.4" width="2.7" height="2.7" fill="#e8141c"/>
<text class="lg" x="335.3" y="295.1">Young-aged</text>
<circle cx="329.2" cy="299.2" r="1.47" fill="#1f4e9c"/>
<text class="lg" x="335.3" y="300.6">Middle-aged</text>
<path d="M329.2 302.9L331.0 306.0H327.4Z" fill="#f5b800"/>
<text class="lg" x="335.3" y="306.1">Near-mature</text>
<path d="M329.2 312.2L331.0 309.1H327.4Z" fill="#22b573"/>
<text class="lg" x="335.3" y="311.8">Mature</text>
<path d="M329.2 314.1L331.0 315.9L329.2 317.7L327.4 315.9Z" fill="#4b3b96"/>
<text class="lg" x="335.3" y="317.3">Excess-mature</text>
</g>
<g id="p5">
<path d="M22.38 410.25V527.01H166.56M22.38 527.01v1.9M30.39 527.01v1.0M38.40 527.01v1.9M46.41 527.01v1.0M54.42 527.01v1.9M62.43 527.01v1.0M70.44 527.01v1.9M78.45 527.01v1.0M86.46 527.01v1.9M94.47 527.01v1.0M102.48 527.01v1.9M110.49 527.01v1.0M118.50 527.01v1.9M126.51 527.01v1.0M134.52 527.01v1.9M142.53 527.01v1.0M150.54 527.01v1.9M158.55 527.01v1.0M166.56 527.01v1.9M22.38 527.01h-1.0M22.38 517.28h-1.9M22.38 507.55h-1.0M22.38 497.82h-1.9M22.38 488.09h-1.0M22.38 478.36h-1.9M22.38 468.63h-1.0M22.38 458.90h-1.9M22.38 449.17h-1.0M22.38 439.44h-1.9M22.38 429.71h-1.0M22.38 419.98h-1.9M22.38 410.25h-1.0" fill="none" stroke="#333" stroke-width="0.55"/>
<text class="tk" transform="translate(22.1,535.2) scale(0.82,1)" text-anchor="middle">−10</text>
<text class="tk" transform="translate(38.3,535.2) scale(0.82,1)" text-anchor="middle">0</text>
<text class="tk" transform="translate(54.3,535.2) scale(0.82,1)" text-anchor="middle">10</text>
<text class="tk" transform="translate(70.3,535.2) scale(0.82,1)" text-anchor="middle">20</text>
<text class="tk" transform="translate(86.4,535.2) scale(0.82,1)" text-anchor="middle">30</text>
<text class="tk" transform="translate(102.4,535.2) scale(0.82,1)" text-anchor="middle">40</text>
<text class="tk" transform="translate(118.4,535.2) scale(0.82,1)" text-anchor="middle">50</text>
<text class="tk" transform="translate(134.4,535.2) scale(0.82,1)" text-anchor="middle">60</text>
<text class="tk" transform="translate(150.4,535.2) scale(0.82,1)" text-anchor="middle">70</text>
<text class="tk" transform="translate(166.5,535.2) scale(0.82,1)" text-anchor="middle">80</text>
<text class="tk" transform="translate(19.0,519.2) scale(0.82,1)" text-anchor="end">−30</text>
<text class="tk" transform="translate(19.0,499.7) scale(0.82,1)" text-anchor="end">−20</text>
<text class="tk" transform="translate(19.0,480.3) scale(0.82,1)" text-anchor="end">−10</text>
<text class="tk" transform="translate(19.0,460.8) scale(0.82,1)" text-anchor="end">0</text>
<text class="tk" transform="translate(19.0,441.3) scale(0.82,1)" text-anchor="end">10</text>
<text class="tk" transform="translate(19.0,421.9) scale(0.82,1)" text-anchor="end">20</text>
<text class="ax" x="89.7" y="546.7" text-anchor="middle" textLength="68.6" lengthAdjust="spacingAndGlyphs">Carbon storage (per hectare)</text>
<text class="ax" transform="translate(7.1,464.0) rotate(-90)" text-anchor="middle">Residual</text>
<rect x="77.8" y="442.3" width="2.8" height="2.8" fill="#e8141c"/>
<rect x="103.9" y="431.8" width="2.8" height="2.8" fill="#e8141c"/>
<rect x="36.9" y="455.0" width="2.8" height="2.8" fill="#e8141c"/>
<rect x="117.1" y="423.3" width="2.8" height="2.8" fill="#e8141c"/>
<circle cx="87.6" cy="435.9" r="1.55" fill="#1f4e9c"/>
<circle cx="81.6" cy="443.0" r="1.55" fill="#1f4e9c"/>
<circle cx="94.2" cy="442.4" r="1.55" fill="#1f4e9c"/>
<circle cx="99.1" cy="441.2" r="1.55" fill="#1f4e9c"/>
<circle cx="67.8" cy="448.4" r="1.55" fill="#1f4e9c"/>
<circle cx="79.2" cy="449.4" r="1.55" fill="#1f4e9c"/>
<circle cx="92.1" cy="450.9" r="1.55" fill="#1f4e9c"/>
<circle cx="97.5" cy="450.0" r="1.55" fill="#1f4e9c"/>
<circle cx="97.4" cy="454.8" r="1.55" fill="#1f4e9c"/>
<circle cx="85.5" cy="458.4" r="1.55" fill="#1f4e9c"/>
<circle cx="91.4" cy="458.1" r="1.55" fill="#1f4e9c"/>
<circle cx="74.6" cy="459.2" r="1.55" fill="#1f4e9c"/>
<circle cx="73.4" cy="462.2" r="1.55" fill="#1f4e9c"/>
<circle cx="90.6" cy="463.4" r="1.55" fill="#1f4e9c"/>
<circle cx="69.6" cy="469.2" r="1.55" fill="#1f4e9c"/>
<circle cx="67.8" cy="471.8" r="1.55" fill="#1f4e9c"/>
<circle cx="80.4" cy="471.3" r="1.55" fill="#1f4e9c"/>
<circle cx="70.0" cy="478.5" r="1.55" fill="#1f4e9c"/>
<circle cx="72.0" cy="482.4" r="1.55" fill="#1f4e9c"/>
<circle cx="49.7" cy="445.1" r="1.55" fill="#1f4e9c"/>
<circle cx="54.1" cy="464.8" r="1.55" fill="#1f4e9c"/>
<circle cx="58.5" cy="468.3" r="1.55" fill="#1f4e9c"/>
<circle cx="63.3" cy="501.4" r="1.55" fill="#1f4e9c"/>
<circle cx="80.9" cy="486.5" r="1.55" fill="#1f4e9c"/>
<circle cx="116.4" cy="434.3" r="1.55" fill="#1f4e9c"/>
<path d="M89.6 426.8L91.4 430.0H87.8Z" fill="#f5b800"/>
<path d="M97.5 426.3L99.3 429.6H95.7Z" fill="#f5b800"/>
<path d="M102.9 432.8L104.8 436.1H101.1Z" fill="#f5b800"/>
<path d="M90.0 440.9L91.8 444.2H88.2Z" fill="#f5b800"/>
<path d="M104.0 444.8L105.8 448.0H102.2Z" fill="#f5b800"/>
<path d="M98.1 445.4L99.9 448.7H96.2Z" fill="#f5b800"/>
<path d="M85.2 449.0L87.0 452.3H83.4Z" fill="#f5b800"/>
<path d="M89.7 451.4L91.5 454.7H87.9Z" fill="#f5b800"/>
<path d="M94.8 449.5L96.6 452.8H93.0Z" fill="#f5b800"/>
<path d="M99.6 448.8L101.4 452.0H97.8Z" fill="#f5b800"/>
<path d="M104.4 450.8L106.2 454.0H102.6Z" fill="#f5b800"/>
<path d="M71.2 455.0L73.0 458.3H69.4Z" fill="#f5b800"/>
<path d="M105.3 458.9L107.1 462.2H103.5Z" fill="#f5b800"/>
<path d="M87.9 462.8L89.8 466.1H86.1Z" fill="#f5b800"/>
<path d="M63.4 469.8L65.2 473.0H61.5Z" fill="#f5b800"/>
<path d="M93.9 472.8L95.8 476.0H92.1Z" fill="#f5b800"/>
<path d="M88.2 476.9L90.0 480.2H86.4Z" fill="#f5b800"/>
<path d="M57.0 478.3L58.9 481.6H55.1Z" fill="#f5b800"/>
<path d="M49.9 490.8L51.8 494.0H48.0Z" fill="#f5b800"/>
<path d="M86.7 485.1L88.5 488.4H84.9Z" fill="#f5b800"/>
<path d="M123.5 422.2L125.3 425.5H121.7Z" fill="#f5b800"/>
<path d="M122.8 438.5L124.6 441.8H121.0Z" fill="#f5b800"/>
<path d="M136.1 438.5L137.9 441.8H134.2Z" fill="#f5b800"/>
<path d="M113.6 448.5L115.4 451.8H111.8Z" fill="#f5b800"/>
<path d="M166.0 415.5L167.8 418.8H164.2Z" fill="#f5b800"/>
<path d="M106.8 444.4L108.6 441.1H105.0Z" fill="#22b573"/>
<path d="M90.0 447.7L91.8 444.4H88.2Z" fill="#22b573"/>
<path d="M102.6 454.2L104.4 451.0H100.8Z" fill="#22b573"/>
<path d="M97.8 454.5L99.6 451.2H96.0Z" fill="#22b573"/>
<path d="M94.2 456.7L96.0 453.4H92.4Z" fill="#22b573"/>
<path d="M80.4 460.6L82.2 457.3H78.6Z" fill="#22b573"/>
<path d="M103.4 461.1L105.2 457.8H101.6Z" fill="#22b573"/>
<path d="M67.4 470.2L69.2 466.9H65.6Z" fill="#22b573"/>
<path d="M83.4 480.7L85.2 477.4H81.6Z" fill="#22b573"/>
<path d="M85.8 483.1L87.6 479.8H84.0Z" fill="#22b573"/>
<path d="M104.3 416.2L106.1 412.9H102.5Z" fill="#22b573"/>
<path d="M76.1 513.1L77.9 509.9H74.2Z" fill="#22b573"/>
<path d="M151.5 415.9L153.3 412.6H149.7Z" fill="#22b573"/>
<path d="M126.2 444.2L128.1 440.9H124.4Z" fill="#22b573"/>
<path d="M125.8 453.6L127.6 450.3H124.0Z" fill="#22b573"/>
<path d="M118.0 460.9L119.8 457.6H116.2Z" fill="#22b573"/>
<path d="M129.6 462.4L131.4 459.1H127.8Z" fill="#22b573"/>
<path d="M140.4 461.4L142.2 458.1H138.6Z" fill="#22b573"/>
<path d="M92.0 463.4L93.8 465.3L92.0 467.2L90.2 465.3Z" fill="#4b3b96"/>
<path d="M69.4 466.8L71.2 468.6L69.4 470.5L67.6 468.6Z" fill="#4b3b96"/>
<path d="M69.1 506.6L70.9 508.5L69.1 510.4L67.2 508.5Z" fill="#4b3b96"/>
<path d="M99.3 487.1L101.1 489.0L99.3 490.9L97.5 489.0Z" fill="#4b3b96"/>
<path d="M120.5 434.8L122.3 436.6L120.5 438.5L118.7 436.6Z" fill="#4b3b96"/>
<path d="M149.2 431.0L151.0 432.9L149.2 434.8L147.3 432.9Z" fill="#4b3b96"/>
<rect x="129.9" y="494.1" width="37.3" height="28.6" fill="#fff" stroke="#bdbdbd" stroke-width="0.55"/>
<rect x="133.9" y="496.5" width="2.7" height="2.7" fill="#e8141c"/>
<text class="lg" x="141.3" y="499.2">Young-aged</text>
<circle cx="135.2" cy="503.1" r="1.47" fill="#1f4e9c"/>
<text class="lg" x="141.3" y="504.5">Middle-aged</text>
<path d="M135.2 506.8L137.0 509.9H133.4Z" fill="#f5b800"/>
<text class="lg" x="141.3" y="510.0">Near-mature</text>
<path d="M135.2 515.9L137.0 512.8H133.4Z" fill="#22b573"/>
<text class="lg" x="141.3" y="515.5">Mature</text>
<path d="M135.2 518.0L137.0 519.8L135.2 521.6L133.4 519.8Z" fill="#4b3b96"/>
<text class="lg" x="141.3" y="521.2">Excess-mature</text>
</g>
<g id="p6">
<path d="M219.29 411.22V526.25H361.58M219.29 526.25v1.9M227.19 526.25v1.0M235.10 526.25v1.9M243.00 526.25v1.0M250.91 526.25v1.9M258.81 526.25v1.0M266.72 526.25v1.9M274.62 526.25v1.0M282.53 526.25v1.9M290.44 526.25v1.0M298.34 526.25v1.9M306.25 526.25v1.0M314.15 526.25v1.9M322.06 526.25v1.0M329.96 526.25v1.9M337.87 526.25v1.0M345.77 526.25v1.9M353.68 526.25v1.0M361.58 526.25v1.9M219.29 526.25h-1.0M219.29 516.66h-1.9M219.29 507.07h-1.0M219.29 497.49h-1.9M219.29 487.90h-1.0M219.29 478.32h-1.9M219.29 468.73h-1.0M219.29 459.15h-1.9M219.29 449.56h-1.0M219.29 439.98h-1.9M219.29 430.39h-1.0M219.29 420.81h-1.9M219.29 411.22h-1.0" fill="none" stroke="#333" stroke-width="0.55"/>
<text class="tk" transform="translate(219.0,534.4) scale(0.82,1)" text-anchor="middle">−10</text>
<text class="tk" transform="translate(235.0,534.4) scale(0.82,1)" text-anchor="middle">0</text>
<text class="tk" transform="translate(250.8,534.4) scale(0.82,1)" text-anchor="middle">10</text>
<text class="tk" transform="translate(266.6,534.4) scale(0.82,1)" text-anchor="middle">20</text>
<text class="tk" transform="translate(282.4,534.4) scale(0.82,1)" text-anchor="middle">30</text>
<text class="tk" transform="translate(298.2,534.4) scale(0.82,1)" text-anchor="middle">40</text>
<text class="tk" transform="translate(314.0,534.4) scale(0.82,1)" text-anchor="middle">50</text>
<text class="tk" transform="translate(329.9,534.4) scale(0.82,1)" text-anchor="middle">60</text>
<text class="tk" transform="translate(345.7,534.4) scale(0.82,1)" text-anchor="middle">70</text>
<text class="tk" transform="translate(361.5,534.4) scale(0.82,1)" text-anchor="middle">80</text>
<text class="tk" transform="translate(215.9,518.6) scale(0.82,1)" text-anchor="end">−30</text>
<text class="tk" transform="translate(215.9,499.4) scale(0.82,1)" text-anchor="end">−20</text>
<text class="tk" transform="translate(215.9,480.2) scale(0.82,1)" text-anchor="end">−10</text>
<text class="tk" transform="translate(215.9,461.0) scale(0.82,1)" text-anchor="end">0</text>
<text class="tk" transform="translate(215.9,441.9) scale(0.82,1)" text-anchor="end">10</text>
<text class="tk" transform="translate(215.9,422.7) scale(0.82,1)" text-anchor="end">20</text>
<text class="ax" x="290.3" y="544.6" text-anchor="middle" textLength="68.0" lengthAdjust="spacingAndGlyphs">Carbon storage (per hectare)</text>
<text class="ax" transform="translate(199.3,467.5) rotate(-90)" text-anchor="middle">Residual</text>
<rect x="274.2" y="429.2" width="2.8" height="2.8" fill="#e8141c"/>
<rect x="300.0" y="429.5" width="2.8" height="2.8" fill="#e8141c"/>
<rect x="234.0" y="451.4" width="2.8" height="2.8" fill="#e8141c"/>
<rect x="312.9" y="418.9" width="2.8" height="2.8" fill="#e8141c"/>
<circle cx="283.5" cy="429.4" r="1.55" fill="#1f4e9c"/>
<circle cx="290.0" cy="432.0" r="1.55" fill="#1f4e9c"/>
<circle cx="294.9" cy="430.2" r="1.55" fill="#1f4e9c"/>
<circle cx="277.8" cy="435.6" r="1.55" fill="#1f4e9c"/>
<circle cx="264.0" cy="440.2" r="1.55" fill="#1f4e9c"/>
<circle cx="275.4" cy="441.4" r="1.55" fill="#1f4e9c"/>
<circle cx="288.0" cy="439.0" r="1.55" fill="#1f4e9c"/>
<circle cx="294.6" cy="437.8" r="1.55" fill="#1f4e9c"/>
<circle cx="293.1" cy="439.3" r="1.55" fill="#1f4e9c"/>
<circle cx="293.4" cy="444.1" r="1.55" fill="#1f4e9c"/>
<circle cx="287.1" cy="444.6" r="1.55" fill="#1f4e9c"/>
<circle cx="281.6" cy="445.9" r="1.55" fill="#1f4e9c"/>
<circle cx="286.4" cy="449.2" r="1.55" fill="#1f4e9c"/>
<circle cx="270.9" cy="450.0" r="1.55" fill="#1f4e9c"/>
<circle cx="269.6" cy="451.6" r="1.55" fill="#1f4e9c"/>
<circle cx="266.4" cy="457.6" r="1.55" fill="#1f4e9c"/>
<circle cx="264.0" cy="460.9" r="1.55" fill="#1f4e9c"/>
<circle cx="276.6" cy="458.4" r="1.55" fill="#1f4e9c"/>
<circle cx="279.6" cy="463.8" r="1.55" fill="#1f4e9c"/>
<circle cx="266.0" cy="466.2" r="1.55" fill="#1f4e9c"/>
<circle cx="268.2" cy="471.4" r="1.55" fill="#1f4e9c"/>
<circle cx="276.9" cy="474.4" r="1.55" fill="#1f4e9c"/>
<circle cx="246.3" cy="441.7" r="1.55" fill="#1f4e9c"/>
<circle cx="250.7" cy="459.1" r="1.55" fill="#1f4e9c"/>
<circle cx="254.9" cy="459.3" r="1.55" fill="#1f4e9c"/>
<circle cx="259.7" cy="485.5" r="1.55" fill="#1f4e9c"/>
<circle cx="312.0" cy="422.4" r="1.55" fill="#1f4e9c"/>
<path d="M285.6 424.5L287.5 427.8H283.8Z" fill="#f5b800"/>
<path d="M293.4 426.0L295.2 429.3H291.5Z" fill="#f5b800"/>
<path d="M299.0 433.8L300.9 437.0H297.1Z" fill="#f5b800"/>
<path d="M286.2 439.8L288.1 443.0H284.3Z" fill="#f5b800"/>
<path d="M294.0 444.9L295.9 448.2H292.1Z" fill="#f5b800"/>
<path d="M299.6 445.8L301.5 449.0H297.8Z" fill="#f5b800"/>
<path d="M281.1 447.9L283.0 451.2H279.2Z" fill="#f5b800"/>
<path d="M295.4 448.8L297.2 452.1H293.5Z" fill="#f5b800"/>
<path d="M290.6 451.1L292.5 454.4H288.8Z" fill="#f5b800"/>
<path d="M285.6 452.3L287.5 455.6H283.8Z" fill="#f5b800"/>
<path d="M300.2 452.1L302.1 455.4H298.3Z" fill="#f5b800"/>
<path d="M267.4 455.3L269.2 458.6H265.5Z" fill="#f5b800"/>
<path d="M300.9 460.8L302.8 464.1H299.0Z" fill="#f5b800"/>
<path d="M283.8 463.8L285.7 467.0H281.9Z" fill="#f5b800"/>
<path d="M259.6 466.5L261.5 469.8H257.8Z" fill="#f5b800"/>
<path d="M289.8 475.1L291.7 478.4H287.9Z" fill="#f5b800"/>
<path d="M284.4 477.2L286.2 480.5H282.5Z" fill="#f5b800"/>
<path d="M253.3 476.0L255.2 479.3H251.5Z" fill="#f5b800"/>
<path d="M246.7 490.5L248.5 493.8H244.8Z" fill="#f5b800"/>
<path d="M282.8 487.4L284.7 490.7H280.9Z" fill="#f5b800"/>
<path d="M318.7 424.8L320.6 428.0H316.8Z" fill="#f5b800"/>
<path d="M318.3 442.3L320.2 445.6H316.4Z" fill="#f5b800"/>
<path d="M331.5 442.3L333.4 445.6H329.6Z" fill="#f5b800"/>
<path d="M309.1 449.6L311.0 452.9H307.2Z" fill="#f5b800"/>
<path d="M361.0 420.3L362.9 423.6H359.1Z" fill="#f5b800"/>
<path d="M300.0 425.2L301.9 422.0H298.1Z" fill="#22b573"/>
<path d="M285.9 458.9L287.8 455.6H284.0Z" fill="#22b573"/>
<path d="M302.6 458.9L304.5 455.6H300.8Z" fill="#22b573"/>
<path d="M293.6 468.2L295.5 464.9H291.8Z" fill="#22b573"/>
<path d="M290.0 469.7L291.9 466.4H288.1Z" fill="#22b573"/>
<path d="M298.2 469.1L300.1 465.8H296.3Z" fill="#22b573"/>
<path d="M276.3 472.1L278.2 468.8H274.4Z" fill="#22b573"/>
<path d="M299.0 476.2L300.9 473.0H297.1Z" fill="#22b573"/>
<path d="M263.8 480.1L265.7 476.8H261.9Z" fill="#22b573"/>
<path d="M280.3 497.0L282.2 493.7H278.4Z" fill="#22b573"/>
<path d="M282.2 498.2L284.1 495.0H280.3Z" fill="#22b573"/>
<path d="M272.5 512.6L274.4 509.4H270.6Z" fill="#22b573"/>
<path d="M346.5 434.1L348.4 430.8H344.6Z" fill="#22b573"/>
<path d="M321.6 461.4L323.5 458.1H319.8Z" fill="#22b573"/>
<path d="M321.6 472.5L323.5 469.2H319.8Z" fill="#22b573"/>
<path d="M313.5 479.6L315.4 476.3H311.6Z" fill="#22b573"/>
<path d="M324.8 482.9L326.7 479.6H322.9Z" fill="#22b573"/>
<path d="M335.6 483.6L337.5 480.3H333.8Z" fill="#22b573"/>
<path d="M265.2 489.4L267.1 491.3L265.2 493.2L263.3 491.3Z" fill="#4b3b96"/>
<path d="M265.2 497.4L267.1 499.3L265.2 501.2L263.3 499.3Z" fill="#4b3b96"/>
<path d="M287.8 495.5L289.7 497.4L287.8 499.2L285.9 497.4Z" fill="#4b3b96"/>
<path d="M295.1 503.1L297.0 505.0L295.1 506.9L293.2 505.0Z" fill="#4b3b96"/>
<path d="M316.0 460.5L317.9 462.4L316.0 464.2L314.1 462.4Z" fill="#4b3b96"/>
<path d="M344.2 467.0L346.1 468.9L344.2 470.8L342.3 468.9Z" fill="#4b3b96"/>
<rect x="324.6" y="496.2" width="37.1" height="28.0" fill="#fff" stroke="#bdbdbd" stroke-width="0.55"/>
<rect x="328.6" y="498.4" width="2.7" height="2.7" fill="#e8141c"/>
<text class="lg" x="335.8" y="501.1">Young-aged</text>
<circle cx="329.9" cy="505.2" r="1.47" fill="#1f4e9c"/>
<text class="lg" x="335.8" y="506.6">Middle-aged</text>
<path d="M329.9 508.7L331.7 511.8H328.1Z" fill="#f5b800"/>
<text class="lg" x="335.8" y="511.9">Near-mature</text>
<path d="M329.9 517.8L331.7 514.7H328.1Z" fill="#22b573"/>
<text class="lg" x="335.8" y="517.4">Mature</text>
<path d="M329.9 519.7L331.7 521.5L329.9 523.3L328.1 521.5Z" fill="#4b3b96"/>
<text class="lg" x="335.8" y="522.9">Excess-mature</text>
</g>
</svg></body></html>
